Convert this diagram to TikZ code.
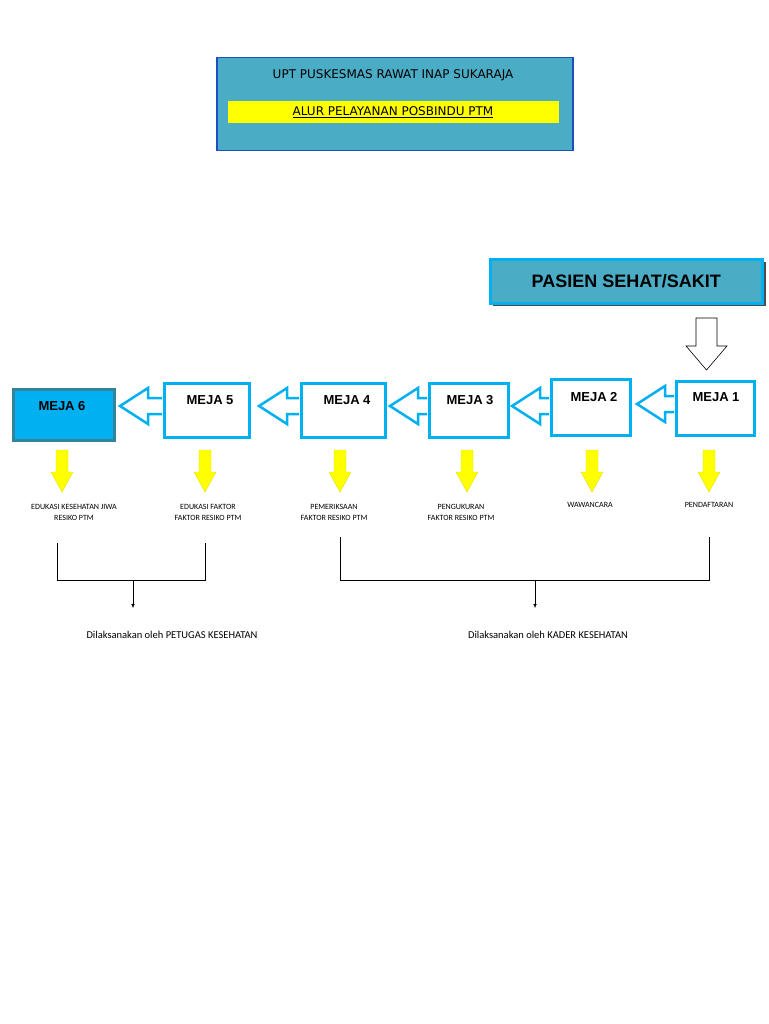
\documentclass[tikz,border=0pt]{standalone}
\usepackage{fontspec}
\usetikzlibrary{arrows.meta}
\setmainfont{Carlito}
\newfontfamily\arialf{Liberation Sans}
\newfontfamily\tahf{DejaVu Sans}
\definecolor{cyanb}{HTML}{00B0F0}
\definecolor{steel}{HTML}{4BACC6}
\definecolor{darkb}{HTML}{31849B}
\definecolor{ylw}{HTML}{FFFF00}
\newcommand{\harr}[3]{% tip x, start x, mid y
  \draw[cyanb,line width=2.5pt,fill=white,line join=miter] (#2,#3-8) -- (#1+28,#3-8) -- (#1+28,#3-18) -- (#1,#3) -- (#1+28,#3+18) -- (#1+28,#3+8) -- (#2,#3+8);}
\newcommand{\yarr}[1]{%
  \draw[ylw!70!black!40!yellow,line width=0.4pt,fill=ylw] (#1-6,450) -- (#1+6,450) -- (#1+6,472) -- (#1+11,472) -- (#1,492) -- (#1-11,472) -- (#1-6,472) -- cycle;}
\tikzset{meja/.style={draw=cyanb,line width=2.5pt,fill=white,anchor=north west,inner sep=0pt},
  mtxt/.style={font=\arialf\bfseries\fontsize{13}{13}\selectfont},
  small/.style={font=\fontsize{8}{11}\selectfont,align=center},
  dil/.style={font=\fontsize{10.5}{12}\selectfont}}
\begin{document}
\begin{tikzpicture}[x=1pt,y=-1pt]
\useasboundingbox (0,0) rectangle (768,1024);
% title
\node[draw=darkb!60!blue,line width=1.5pt,fill=steel,anchor=north west,minimum width=356pt,minimum height=93pt] (title) at (216,57) {};
\node[font=\tahf\fontsize{12}{12}\selectfont] (t1) at (393,75) {UPT PUSKESMAS RAWAT INAP SUKARAJA};
\node[fill=ylw,anchor=north west,minimum width=331pt,minimum height=22pt,inner sep=0pt] (ybar) at (228,101) {};
\node[font=\tahf\fontsize{12}{12}\selectfont] (t2) at (393,112) {\underline{ALUR PELAYANAN POSBINDU PTM}};
% pasien
\fill[gray!60!black] (493,262) rectangle (766,306);
\node[draw=cyanb,line width=2.5pt,fill=steel,anchor=north west,minimum width=272pt,minimum height=44pt,font=\arialf\bfseries\fontsize{18}{18}\selectfont] (pasien) at (489,258) {PASIEN SEHAT/SAKIT};
% down arrow
\draw[black,fill=white,line width=0.6pt] (696,318) -- (717,318) -- (717,346) -- (727,346) -- (706.5,370) -- (686,346) -- (696,346) -- cycle;
% meja boxes
\node[meja,minimum width=78pt,minimum height=54pt] (m1) at (675,380) {};
\node[mtxt] at (716,397) {MEJA 1};
\node[meja,minimum width=79pt,minimum height=56pt] (m2) at (550,378) {};
\node[mtxt] at (594,397) {MEJA 2};
\node[meja,minimum width=79pt,minimum height=54pt] (m3) at (428,382) {};
\node[mtxt] at (470,400) {MEJA 3};
\node[meja,minimum width=84pt,minimum height=54pt] (m4) at (300,382) {};
\node[mtxt] at (347,400) {MEJA 4};
\node[meja,minimum width=85pt,minimum height=54pt] (m5) at (163,382) {};
\node[mtxt] at (210,400) {MEJA 5};
\node[draw=darkb,line width=2.5pt,fill=cyanb,anchor=north west,minimum width=101pt,minimum height=51pt,inner sep=0pt] (m6) at (12,388) {};
\node[mtxt] at (62,406) {MEJA 6};
% horizontal arrows
\harr{637}{674}{404}
\harr{512}{549}{406}
\harr{390}{427}{406}
\harr{259}{299}{406}
\harr{120}{162}{406}
% yellow arrows
\foreach \x in {62,205,340,467,592,709} {\yarr{\x}}
% labels
\node[small] (l6) at (74,512) {EDUKASI KESEHATAN JIWA\\RESIKO PTM};
\node[small] (l5) at (208,512) {EDUKASI FAKTOR\\FAKTOR RESIKO PTM};
\node[small] (l4) at (334,512) {PEMERIKSAAN\\FAKTOR RESIKO PTM};
\node[small] (l3) at (461,512) {PENGUKURAN\\FAKTOR RESIKO PTM};
\node[small] (l2) at (590,505) {WAWANCARA};
\node[small] (l1) at (709,505) {PENDAFTARAN};
% brackets
\draw[line width=0.6pt] (57,543) -- (57,580) -- (205,580) -- (205,543);
\draw[line width=0.6pt] (340,537) -- (340,580) -- (709,580) -- (709,537);
\coordinate (b1) at (133,580); \coordinate (b1e) at (133,608);
\coordinate (b2) at (535,580); \coordinate (b2e) at (535,608);
\draw[line width=0.4pt,-{Latex[length=4pt,width=3.5pt]}] (b1) -- (b1e);
\draw[line width=0.4pt,-{Latex[length=4pt,width=3.5pt]}] (b2) -- (b2e);
\node[dil] (d1) at (172,635) {Dilaksanakan oleh PETUGAS KESEHATAN};
\node[dil] (d2) at (548,635) {Dilaksanakan oleh KADER KESEHATAN};
\end{tikzpicture}
\end{document}
